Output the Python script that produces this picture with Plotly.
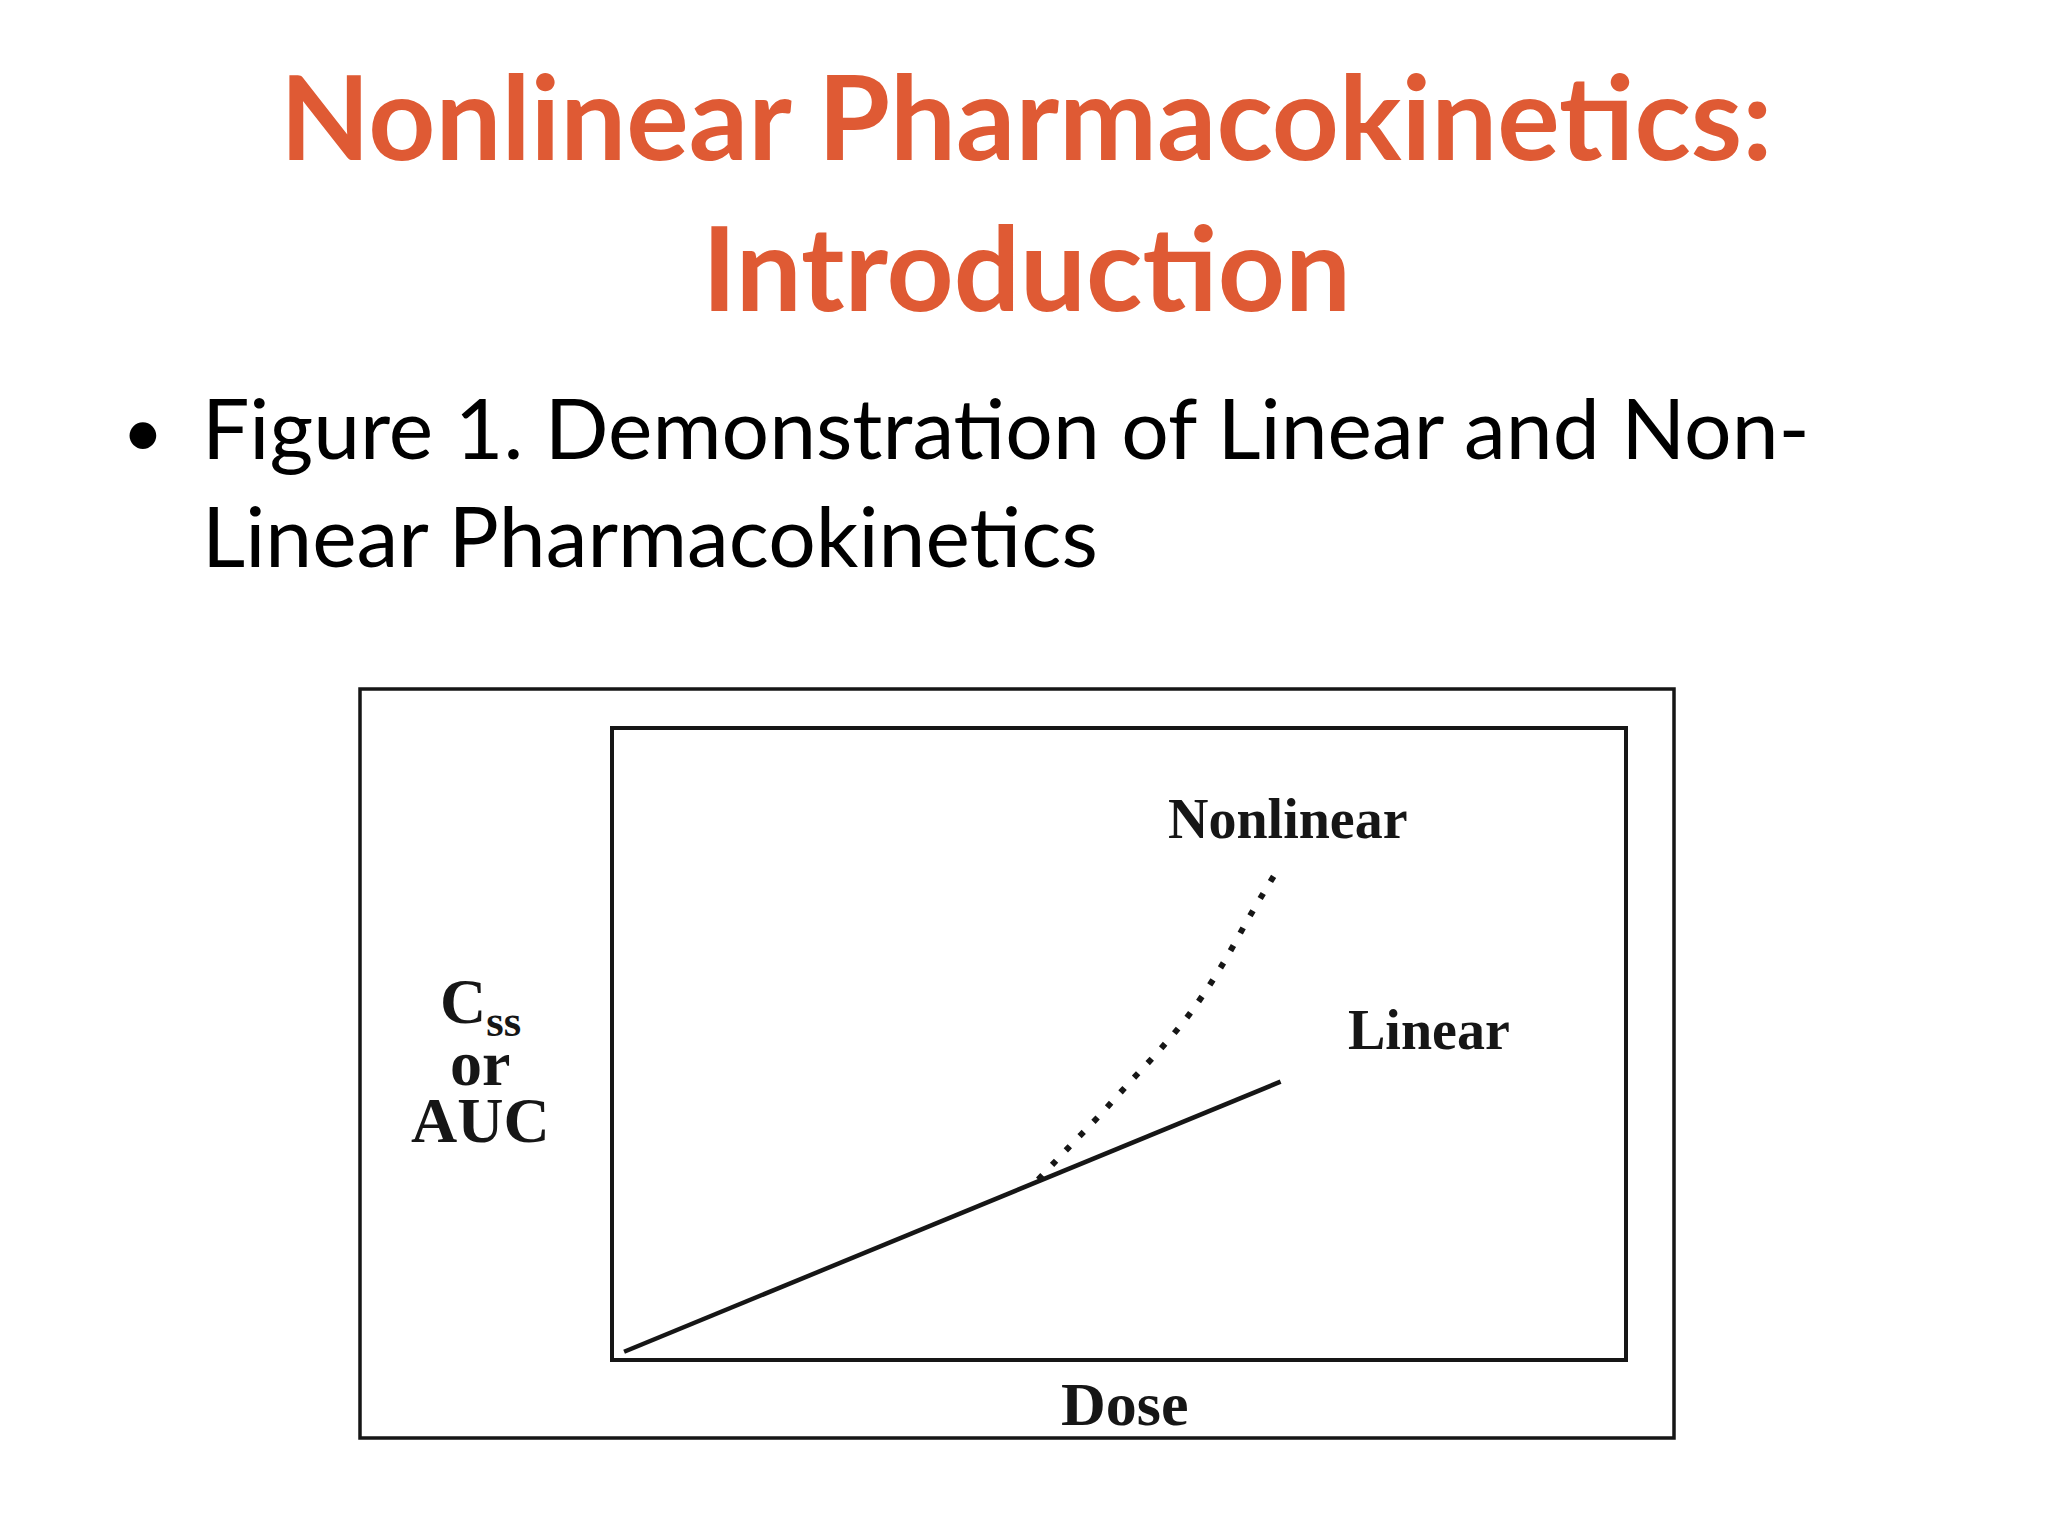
import plotly.graph_objects as go

# ---- data ----
dose_linear = [0.01, 0.66]
css_linear = [0.01, 0.44]

dose_nonlinear = [0.42, 0.45, 0.48, 0.51, 0.54, 0.57, 0.60, 0.63, 0.655]
css_nonlinear = [0.284, 0.335, 0.385, 0.438, 0.490, 0.548, 0.620, 0.705, 0.772]

title_lines = ["Nonlinear Pharmacokinetics:", "Introduction"]
body_lines = ["Figure 1. Demonstration of Linear and Non-", "Linear Pharmacokinetics"]
ylabel_lines = ["C<sub>ss</sub>", "or", "AUC"]
xlabel = "Dose"
series_names = ["Linear", "Nonlinear"]

W, H = 2048, 1536
INK = "#161616"
TITLE_COLOR = "#DF5A34"
SERIF = "Liberation Serif, Times New Roman, serif"
SANS = "Lato, Carlito, Calibri, sans-serif"

fig = go.Figure()
fig.add_trace(go.Scatter(x=dose_linear, y=css_linear, mode="lines",
                         line=dict(color=INK, width=4.5), name=series_names[0],
                         showlegend=False, hoverinfo="skip"))
fig.add_trace(go.Scatter(x=dose_nonlinear, y=css_nonlinear, mode="lines",
                         line=dict(color=INK, width=6, dash="6px,14px", shape="spline"),
                         name=series_names[1], showlegend=False, hoverinfo="skip"))

annotations = []
# title
for txt, yp in zip(title_lines, [107, 258]):
    annotations.append(dict(text=f"<b>{txt}</b>", x=1018 / W, y=1 - yp / H,
                            xref="paper", yref="paper", xanchor="center", yanchor="middle",
                            showarrow=False, font=dict(family=SANS, size=117, color=TITLE_COLOR)))
# bullet body text
annotations.append(dict(text="\u2022", x=112 / W, y=1 - 421 / H, xref="paper", yref="paper",
                        xanchor="left", yanchor="middle", showarrow=False,
                        font=dict(family=SANS, size=72, color="#000000")))
for txt, yp in zip(body_lines, [418, 526]):
    annotations.append(dict(text=txt, x=192 / W, y=1 - yp / H, xref="paper", yref="paper",
                            xanchor="left", yanchor="middle", showarrow=False,
                            font=dict(family=SANS, size=84, color="#000000")))
# y label (stacked)
for txt, yp in zip(ylabel_lines, [998, 1055, 1112]):
    annotations.append(dict(text=f"<b>{txt}</b>", x=472 / W, y=1 - yp / H, xref="paper", yref="paper",
                            xanchor="center", yanchor="middle", showarrow=False,
                            font=dict(family=SERIF, size=64, color=INK)))
# x label
annotations.append(dict(text=f"<b>{xlabel}</b>", x=1116 / W, y=1 - 1396 / H, xref="paper", yref="paper",
                        xanchor="center", yanchor="middle", showarrow=False,
                        font=dict(family=SERIF, size=62, color=INK)))
# series labels
annotations.append(dict(text=f"<b>{series_names[1]}</b>", x=0.667, y=0.858, xref="x", yref="y",
                        xanchor="center", yanchor="middle", showarrow=False,
                        font=dict(family=SERIF, size=56, color=INK)))
annotations.append(dict(text=f"<b>{series_names[0]}</b>", x=0.807, y=0.523, xref="x", yref="y",
                        xanchor="center", yanchor="middle", showarrow=False,
                        font=dict(family=SERIF, size=56, color=INK)))

fig.update_layout(
    width=W, height=H,
    margin=dict(l=0, r=0, t=0, b=0),
    paper_bgcolor="white", plot_bgcolor="white",
    showlegend=False,
    annotations=annotations,
    shapes=[dict(type="rect", xref="paper", yref="paper",
                 x0=352 / W, x1=1666 / W, y0=1 - 1430 / H, y1=1 - 681 / H,
                 line=dict(color=INK, width=3.5), fillcolor="rgba(0,0,0,0)", layer="below")],
    xaxis=dict(domain=[606 / W, 1616 / W], range=[0, 1], showgrid=False, zeroline=False,
               showticklabels=False, ticks="", showline=True, mirror=True,
               linecolor=INK, linewidth=3.5, fixedrange=True),
    yaxis=dict(domain=[1 - 1350 / H, 1 - 722 / H], range=[0, 1], showgrid=False, zeroline=False,
               showticklabels=False, ticks="", showline=True, mirror=True,
               linecolor=INK, linewidth=3.5, fixedrange=True),
)

fig.write_html("out.html", config={"displayModeBar": False})
